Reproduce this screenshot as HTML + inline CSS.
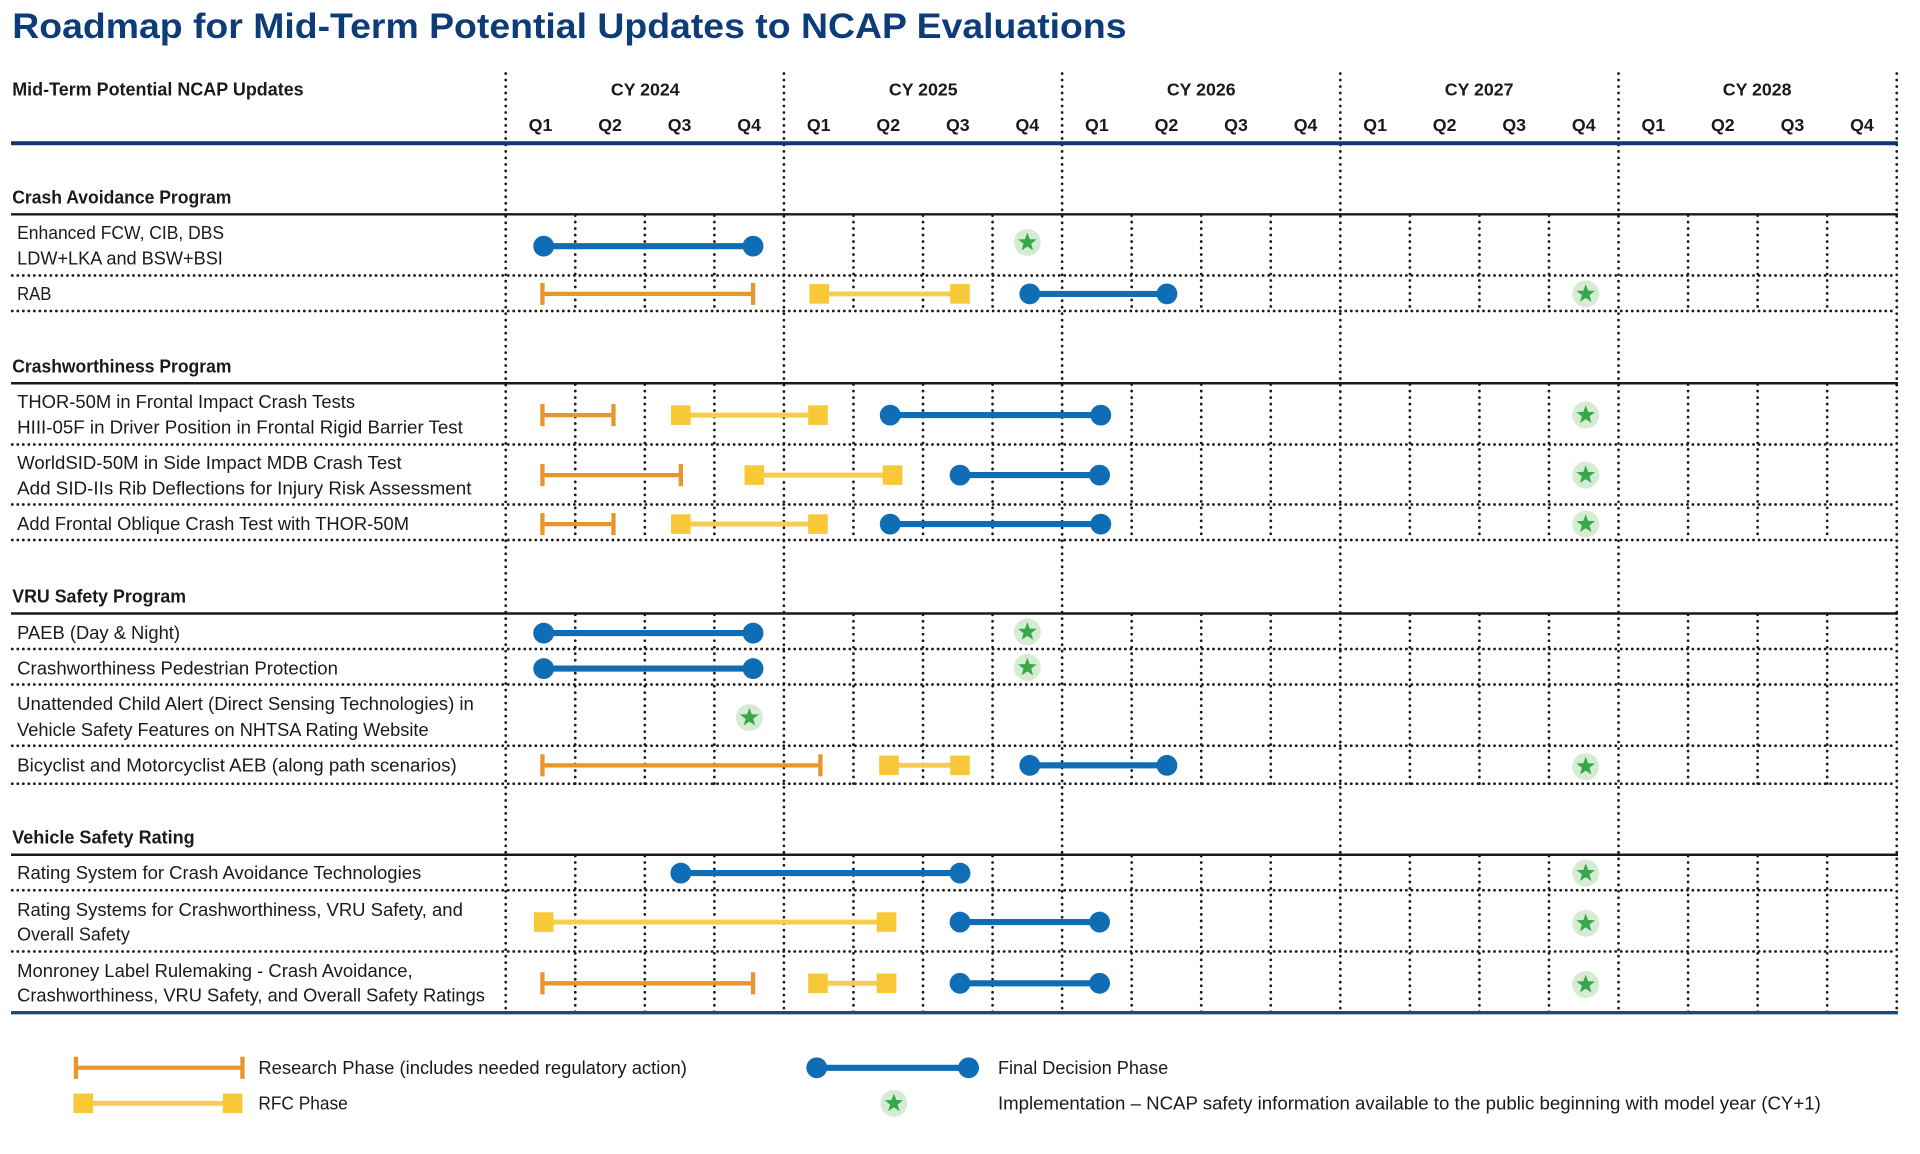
<!DOCTYPE html>
<html><head><meta charset="utf-8"><style>
html,body{margin:0;padding:0;background:#fff;}
svg{display:block;}
text{font-family:"Liberation Sans Narrow","Liberation Sans",sans-serif;fill:#1a1a1a;}
.t{font-size:15px;}
.b{font-size:15px;font-weight:bold;}
.h{font-size:14.5px;font-weight:bold;}
</style></head><body>
<svg width="1920" height="1154" viewBox="0 0 1568 942.4" preserveAspectRatio="none" xmlns="http://www.w3.org/2000/svg">
<defs>
<g id="st"><circle r="11" fill="#d5ecd2"/><path d="M0,-8 L1.94,-2.67 L7.61,-2.47 L3.14,1.02 L4.70,6.47 L0,3.3 L-4.70,6.47 L-3.14,1.02 L-7.61,-2.47 L-1.94,-2.67Z" fill="#36a84a"/></g>
</defs>
<rect width="1568" height="943" fill="#fff"/>
<text x="10" y="31" font-size="29" font-weight="bold" style="fill:#0d3d79;font-family:'Liberation Sans',sans-serif" textLength="910" lengthAdjust="spacingAndGlyphs">Roadmap for Mid-Term Potential Updates to NCAP Evaluations</text>

<!-- header -->
<text class="b" x="10" y="78" textLength="238" lengthAdjust="spacingAndGlyphs">Mid-Term Potential NCAP Updates</text>
<g class="h" text-anchor="middle">
<text x="527" y="78">CY 2024</text><text x="754" y="78">CY 2025</text><text x="981" y="78">CY 2026</text><text x="1208" y="78">CY 2027</text><text x="1435" y="78">CY 2028</text>
<text x="441.4" y="107">Q1</text><text x="498.2" y="107">Q2</text><text x="555" y="107">Q3</text><text x="611.8" y="107">Q4</text>
<text x="668.6" y="107">Q1</text><text x="725.4" y="107">Q2</text><text x="782.2" y="107">Q3</text><text x="839" y="107">Q4</text>
<text x="895.8" y="107">Q1</text><text x="952.6" y="107">Q2</text><text x="1009.4" y="107">Q3</text><text x="1066.2" y="107">Q4</text>
<text x="1123" y="107">Q1</text><text x="1179.8" y="107">Q2</text><text x="1236.6" y="107">Q3</text><text x="1293.4" y="107">Q4</text>
<text x="1350.2" y="107">Q1</text><text x="1407" y="107">Q2</text><text x="1463.8" y="107">Q3</text><text x="1520.6" y="107">Q4</text>
</g>

<!-- dotted grid -->
<g stroke="#1a1a1a" stroke-width="2.2" stroke-dasharray="0.1 5.2" stroke-linecap="round" fill="none">
<path d="M413 60V827 M640.2 60V827 M867.4 60V827 M1094.6 60V827 M1321.8 60V827 M1549 60V827"/>
<path d="M469.8 176V254 M526.6 176V254 M583.4 176V254 M697 176V254 M753.8 176V254 M810.6 176V254 M924.2 176V254 M981 176V254 M1037.8 176V254 M1151.4 176V254 M1208.2 176V254 M1265 176V254 M1378.6 176V254 M1435.4 176V254 M1492.2 176V254"/>
<path d="M469.8 314V441 M526.6 314V441 M583.4 314V441 M697 314V441 M753.8 314V441 M810.6 314V441 M924.2 314V441 M981 314V441 M1037.8 314V441 M1151.4 314V441 M1208.2 314V441 M1265 314V441 M1378.6 314V441 M1435.4 314V441 M1492.2 314V441"/>
<path d="M469.8 502V640 M526.6 502V640 M583.4 502V640 M697 502V640 M753.8 502V640 M810.6 502V640 M924.2 502V640 M981 502V640 M1037.8 502V640 M1151.4 502V640 M1208.2 502V640 M1265 502V640 M1378.6 502V640 M1435.4 502V640 M1492.2 502V640"/>
<path d="M469.8 699V827 M526.6 699V827 M583.4 699V827 M697 699V827 M753.8 699V827 M810.6 699V827 M924.2 699V827 M981 699V827 M1037.8 699V827 M1151.4 699V827 M1208.2 699V827 M1265 699V827 M1378.6 699V827 M1435.4 699V827 M1492.2 699V827"/>
<path stroke-dasharray="0.1 4.4" d="M10 225H1549 M10 254H1549 M10 363H1549 M10 412H1549 M10 441H1549 M10 530H1549 M10 559H1549 M10 609H1549 M10 640H1549 M10 727H1549 M10 777H1549"/>
</g>
<g fill="none">
<path d="M9 117H1550" stroke="#0d3a6b" stroke-width="3.2"/>
<path d="M9 175H1550 M9 313H1550 M9 501H1550 M9 698H1550" stroke="#1a1a1a" stroke-width="2"/>
<path d="M9 827H1550" stroke="#1b4a7a" stroke-width="2.8"/>
</g>

<!-- section headers -->
<text class="b" x="10" y="166" textLength="179" lengthAdjust="spacingAndGlyphs">Crash Avoidance Program</text>
<text class="b" x="10" y="304" textLength="179" lengthAdjust="spacingAndGlyphs">Crashworthiness Program</text>
<text class="b" x="10" y="492" textLength="142" lengthAdjust="spacingAndGlyphs">VRU Safety Program</text>
<text class="b" x="10" y="689" textLength="149" lengthAdjust="spacingAndGlyphs">Vehicle Safety Rating</text>

<!-- row labels -->
<g class="t">
<text x="14" y="195" textLength="169" lengthAdjust="spacingAndGlyphs">Enhanced FCW, CIB, DBS</text>
<text x="14" y="216" textLength="168" lengthAdjust="spacingAndGlyphs">LDW+LKA and BSW+BSI</text>
<text x="14" y="245" textLength="28" lengthAdjust="spacingAndGlyphs">RAB</text>
<text x="14" y="333" textLength="276" lengthAdjust="spacingAndGlyphs">THOR-50M in Frontal Impact Crash Tests</text>
<text x="14" y="354" textLength="364" lengthAdjust="spacingAndGlyphs">HIII-05F in Driver Position in Frontal Rigid Barrier Test</text>
<text x="14" y="383" textLength="314" lengthAdjust="spacingAndGlyphs">WorldSID-50M in Side Impact MDB Crash Test</text>
<text x="14" y="404" textLength="371" lengthAdjust="spacingAndGlyphs">Add SID-IIs Rib Deflections for Injury Risk Assessment</text>
<text x="14" y="433" textLength="320" lengthAdjust="spacingAndGlyphs">Add Frontal Oblique Crash Test with THOR-50M</text>
<text x="14" y="522" textLength="133" lengthAdjust="spacingAndGlyphs">PAEB (Day &amp; Night)</text>
<text x="14" y="551" textLength="262" lengthAdjust="spacingAndGlyphs">Crashworthiness Pedestrian Protection</text>
<text x="14" y="580" textLength="373" lengthAdjust="spacingAndGlyphs">Unattended Child Alert (Direct Sensing Technologies) in</text>
<text x="14" y="601" textLength="336" lengthAdjust="spacingAndGlyphs">Vehicle Safety Features on NHTSA Rating Website</text>
<text x="14" y="630" textLength="359" lengthAdjust="spacingAndGlyphs">Bicyclist and Motorcyclist AEB (along path scenarios)</text>
<text x="14" y="718" textLength="330" lengthAdjust="spacingAndGlyphs">Rating System for Crash Avoidance Technologies</text>
<text x="14" y="748" textLength="364" lengthAdjust="spacingAndGlyphs">Rating Systems for Crashworthiness, VRU Safety, and</text>
<text x="14" y="768" textLength="92" lengthAdjust="spacingAndGlyphs">Overall Safety</text>
<text x="14" y="798" textLength="323" lengthAdjust="spacingAndGlyphs">Monroney Label Rulemaking - Crash Avoidance,</text>
<text x="14" y="818" textLength="382" lengthAdjust="spacingAndGlyphs">Crashworthiness, VRU Safety, and Overall Safety Ratings</text>
</g>

<!-- orange research bars -->
<g stroke="#e8952b" stroke-width="3.5" fill="none">
<path d="M443 240H615 M443 231V249 M615 231V249"/>
<path d="M443 339H501 M443 330V348 M501 330V348"/>
<path d="M443 388H556 M443 379V397 M556 379V397"/>
<path d="M443 428H501 M443 419V437 M501 419V437"/>
<path d="M443 625H670 M443 616V634 M670 616V634"/>
<path d="M443 803H615 M443 794V812 M615 794V812"/>
<path d="M62 872H198 M62 863V881 M198 863V881"/>
</g>
<!-- yellow RFC bars -->
<g fill="#f8c838">
<g stroke="#f6cd4c" stroke-width="4"><path d="M669 240H784 M556 339H668 M616 388H729 M556 428H668 M726 625H784 M444 753H724 M668 803H724 M68 901H190"/></g>
<rect x="661" y="232" width="16" height="16"/><rect x="776" y="232" width="16" height="16"/>
<rect x="548" y="331" width="16" height="16"/><rect x="660" y="331" width="16" height="16"/>
<rect x="608" y="380" width="16" height="16"/><rect x="721" y="380" width="16" height="16"/>
<rect x="548" y="420" width="16" height="16"/><rect x="660" y="420" width="16" height="16"/>
<rect x="718" y="617" width="16" height="16"/><rect x="776" y="617" width="16" height="16"/>
<rect x="436" y="745" width="16" height="16"/><rect x="716" y="745" width="16" height="16"/>
<rect x="660" y="795" width="16" height="16"/><rect x="716" y="795" width="16" height="16"/>
<rect x="60" y="893" width="16" height="16"/><rect x="182" y="893" width="16" height="16"/>
</g>
<!-- blue final decision bars -->
<g fill="#0f6db5">
<g stroke="#0f6db5" stroke-width="5"><path d="M444 201H615 M841 240H953 M727 339H899 M784 388H898 M727 428H899 M444 517H615 M444 546H615 M841 625H953 M556 713H784 M784 753H898 M784 803H898 M667 872H791"/></g>
<circle cx="444" cy="201" r="8.5"/><circle cx="615" cy="201" r="8.5"/>
<circle cx="841" cy="240" r="8.5"/><circle cx="953" cy="240" r="8.5"/>
<circle cx="727" cy="339" r="8.5"/><circle cx="899" cy="339" r="8.5"/>
<circle cx="784" cy="388" r="8.5"/><circle cx="898" cy="388" r="8.5"/>
<circle cx="727" cy="428" r="8.5"/><circle cx="899" cy="428" r="8.5"/>
<circle cx="444" cy="517" r="8.5"/><circle cx="615" cy="517" r="8.5"/>
<circle cx="444" cy="546" r="8.5"/><circle cx="615" cy="546" r="8.5"/>
<circle cx="841" cy="625" r="8.5"/><circle cx="953" cy="625" r="8.5"/>
<circle cx="556" cy="713" r="8.5"/><circle cx="784" cy="713" r="8.5"/>
<circle cx="784" cy="753" r="8.5"/><circle cx="898" cy="753" r="8.5"/>
<circle cx="784" cy="803" r="8.5"/><circle cx="898" cy="803" r="8.5"/>
<circle cx="667" cy="872" r="8.5"/><circle cx="791" cy="872" r="8.5"/>
</g>
<!-- stars -->
<use href="#st" x="839" y="198"/>
<use href="#st" x="1295" y="240"/>
<use href="#st" x="1295" y="339"/>
<use href="#st" x="1295" y="388"/>
<use href="#st" x="1295" y="428"/>
<use href="#st" x="839" y="516"/>
<use href="#st" x="839" y="545"/>
<use href="#st" x="612" y="586"/>
<use href="#st" x="1295" y="626"/>
<use href="#st" x="1295" y="713"/>
<use href="#st" x="1295" y="754"/>
<use href="#st" x="1295" y="804"/>
<use href="#st" x="730" y="901"/>

<!-- legend text -->
<g class="t">
<text x="211" y="877" textLength="350" lengthAdjust="spacingAndGlyphs">Research Phase (includes needed regulatory action)</text>
<text x="211" y="906" textLength="73" lengthAdjust="spacingAndGlyphs">RFC Phase</text>
<text x="815" y="877" textLength="139" lengthAdjust="spacingAndGlyphs">Final Decision Phase</text>
<text x="815" y="906" textLength="672" lengthAdjust="spacingAndGlyphs">Implementation – NCAP safety information available to the public beginning with model year (CY+1)</text>
</g>
</svg>
</body></html>
